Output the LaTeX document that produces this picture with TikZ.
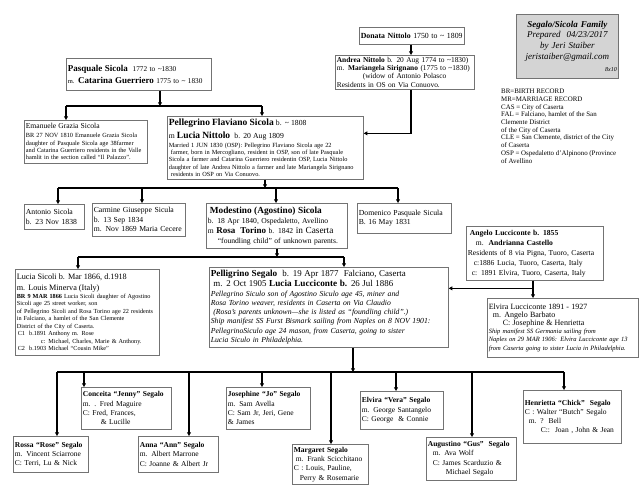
\documentclass[tikz,border=0pt]{standalone}
\usepackage{fontspec}
\setmainfont{Liberation Serif}
\usetikzlibrary{arrows.meta}
\setlength{\lineskiplimit}{-20pt}

\newcommand{\nm}[2][9]{{\fontsize{#1}{0}\selectfont\textbf{#2}}}
\newcommand{\sz}[2]{{\fontsize{#1}{0}\selectfont #2}}
\newcommand{\tld}{\textasciitilde}

\tikzset{
  person/.style={draw=black!55, line width=0.7pt, anchor=north west, align=left,
    inner xsep=1.5pt, inner ysep=1pt, font=\fontsize{7.5}{9.3}\selectfont},
  link/.style={line width=1.1pt, -{Triangle[length=3.6pt,width=3.8pt]}},
  bar/.style={line width=1.1pt},
}

\begin{document}
\begin{tikzpicture}[x=1pt, y=-1pt]
\useasboundingbox (0,0) rectangle (640,495);

% oldest generation
\node[person, text width=142pt, minimum height=32pt, font=\fontsize{7.3}{11.5}\selectfont] (pasq) at (66,58)
  {\nm{Pasquale Sicola}\ \ 1772 to \tld1830\\ \sz{6.5}{m.} \nm{Catarina Guerriero} 1775 to \tld{} 1830};
\node[person, text width=102pt, minimum height=17pt, font=\fontsize{7.8}{9}\selectfont] (donata) at (359,27)
  {\textbf{Donata Nittolo} 1750 to \tld{} 1809};
\node[person, text width=136pt, minimum height=34pt, font=\fontsize{7.4}{8.2}\selectfont] (andrea) at (335,55)
  {\textbf{Andrea Nittolo} b. 20 Aug 1774 to \tld1830)\\
   m. \textbf{Mariangela Sirignano} (1775 to \tld1830)\\
   \hspace*{26pt}(widow of Antonio Polasco\\
   Residents in OS on Via Conuovo.};

% title and legend
\node[person, fill=black!17, align=center, text width=99pt, minimum height=64pt,
  font=\fontsize{9}{10.6}\selectfont\itshape] (title) at (516,14)
  {\textbf{Segalo/Sicola Family}\\ Prepared\ \ 04/23/2017\\ by Jeri Staiber\\
   jeristaiber@gmail.com\\[2pt] \hspace*{\fill}\sz{6}{8x10}\hspace*{4pt}};
\node[anchor=north west, align=left, inner sep=0pt, font=\fontsize{6.9}{7.7}\selectfont] (abbrev) at (501,89)
  {BR=BIRTH RECORD\\ MR=MARRIAGE RECORD\\ CAS = City of Caserta\\
   FAL = Falciano, hamlet of the San\\ Clemente District\\ of the City of Caserta\\
   CLE = San Clemente, district of the City\\ of Caserta\\
   OSP = Ospedaletto d'Alpinono (Province\\ of Avellino};

% Pasquale's children
\node[person, text width=120pt, minimum height=43pt, font=\fontsize{6.3}{7.4}\selectfont] (eman) at (24,120)
  {\sz{7.6}{Emanuele Grazia Sicola}\\[1.5pt]
   BR 27 NOV 1810 Emanuele Grazia Sicola\\
   daughter of Pasquale Sicola age 38farmer\\
   and Catarina Guerriero residents in the Valle\\
   hamlit in the section called ``Il Palazzo''.};
\node[person, text width=193pt, minimum height=63pt, font=\fontsize{6.3}{7.4}\selectfont] (pelF) at (167,116)
  {\nm[9.5]{Pellegrino Flaviano Sicola} \sz{7.7}{b. \tld{} 1808}\\[3.6pt]
   \sz{7.7}{m} \nm[9.5]{Lucia Nittolo}\ \ \sz{7.7}{b. 20 Aug 1809}\\[0.8pt]
   Married 1 JUN 1830 (OSP): Pellegrino Flaviano Sicola age 22\\
   \ farmer, born in Mercogliano, resident in OSP, son of late Pasquale\\
   Sicola a farmer and Catarina Guerriero residentin OSP, Lucia Nittolo\\
   daughter of late Andrea Nittolo a farmer and late Mariangela Sirignano\\
   \ residents in OSP on Via Conuovo.};

% Pellegrino Flaviano's children
\node[person, text width=57pt, minimum height=25pt, font=\fontsize{7.7}{9.5}\selectfont] (anto) at (24,204)
  {Antonio Sicola\\ b. 23 Nov 1838};
\node[person, text width=90pt, minimum height=33pt, font=\fontsize{7.7}{9.5}\selectfont] (carm) at (92,203)
  {Carmine Giuseppe Sicula\\ b. 13 Sep 1834\\ m. Nov 1869 Maria Cecere};
\node[person, text width=138pt, minimum height=45pt, font=\fontsize{7.6}{10}\selectfont] (modest) at (206,203)
  {\hspace*{2pt}\nm[9.3]{Modestino (Agostino) Sicola}\\
   b. 18 Apr 1840, Ospedaletto, Avellino\\
   m \nm{Rosa\ \ Torino} b. 1842 \sz{9.3}{in Caserta}\\
   \hspace*{10pt}``foundling child'' of unknown parents.};
\node[person, text width=91pt, minimum height=30pt, font=\fontsize{7.7}{9.5}\selectfont] (domen) at (357,203)
  {Domenico Pasquale Sicula\\ B. 16 May 1831};

% Lucciconte side
\node[person, text width=134pt, minimum height=54pt, font=\fontsize{7.6}{10}\selectfont] (angelo) at (466,226)
  {\hspace*{2pt}\textbf{Angelo Lucciconte b. 1855}\\
   \hspace*{8pt}m.\ \ \textbf{Andrianna Castello}\\
   Residents of 8 via Pigna, Tuoro, Caserta\\
   \hspace*{6pt}c:1886 Lucia, Tuoro, Caserta, Italy\\
   \hspace*{4pt}c: 1891 Elvira, Tuoro, Caserta, Italy};
\node[person, text width=148pt, minimum height=59pt, font=\fontsize{6.5}{8}\selectfont] (elvL) at (487,298)
  {\sz{8}{Elvira Lucciconte 1891 - 1927}\\
   \sz{8}{\hspace*{4pt}m. Angelo Barbato}\\
   \sz{8}{\hspace*{14pt}C: Josephine \& Henrietta}\\
   \itshape Ship manifest SS Germania sailing from\\
   Naples on 29 MAR 1906: Elvira Lucciconte age 13\\[0.8pt]
   from Caserta going to sister Lucia in Philadelphia.};

% Modestino's children
\node[person, text width=141pt, minimum height=86pt, font=\fontsize{6.2}{7.5}\selectfont] (lucia) at (15,269)
  {\sz{8.2}{Lucia Sicoli b. Mar 1866, d.1918}\\[3pt]
   \sz{8.2}{m. Louis Minerva (Italy)}\\[0.8pt]
   \textbf{BR 9 MAR 1866} Lucia Sicoli daughter of Agostino\\
   Sicoli age 25 street worker, son\\
   of Pellegrino Sicoli and Rosa Torino age 22 residents\\
   in Falciano, a hamlet of the San Clemente\\
   District of the City of Caserta.\\
   \hspace*{1pt}C1\ \ b.1891 Anthony m. Rose\\
   \hspace*{24pt}c: Michael, Charles, Marie \& Anthony.\\
   \hspace*{1pt}C2\ \ b.1903 Michael ``Cousin Mike''};
\node[person, text width=236pt, minimum height=80pt, font=\fontsize{7.7}{9.3}\selectfont] (pelS) at (209,267)
  {\nm[9.2]{Pelligrino Segalo}\ \ \sz{8.9}{b. 19 Apr 1877\ \ Falciano, Caserta}\\[0.6pt]
   \ \sz{8.9}{m. 2 Oct 1905} \nm[9.2]{Lucia Lucciconte b.} \sz{8.9}{26 Jul 1886}\\
   \itshape Pellegrino Siculo son of Agostino Siculo age 45, miner and\\
   Rosa Torino weaver, residents in Caserta on Via Claudio\\
   \ (Rosa's parents unknown---she is listed as ``foundling child''.)\\
   Ship manifest SS Furst Bismark sailing from Naples on 8 NOV 1901:\\
   PellegrinoSiculo age 24 mason, from Caserta, going to sister\\
   Lucia Siculo in Philadelphia.};

% Pelligrino's children
\node[person, text width=87pt, minimum height=42pt] (conc) at (81,387)
  {\textbf{Conceita ``Jenny'' Segalo}\\ m. . Fred Maguire\\ C: Fred, Frances,\\ \hspace*{18pt}\& Lucille};
\node[person, text width=72pt, minimum height=36pt] (rossa) at (13,436)
  {\textbf{Rossa ``Rose'' Segalo}\\ m. Vincent Sciarrone\\ C: Terri, Lu \& Nick};
\node[person, text width=77pt, minimum height=36pt] (anna) at (138,436)
  {\textbf{Anna ``Ann'' Segalo}\\ m. Albert Marrone\\ C: Joanne \& Albert Jr};
\node[person, text width=81pt, minimum height=42pt] (jose) at (226,387)
  {\textbf{Josephine ``Jo'' Segalo}\\ m. Sam Avella\\ C: Sam Jr, Jeri, Gene\\ \& James};
\node[person, text width=73pt, minimum height=40pt] (marg) at (292,444)
  {\textbf{Margaret Segalo}\\ \hspace*{2pt}m. Frank Scicchitano\\ C : Louis, Pauline,\\ \hspace*{6pt}Perry \& Rosemarie};
\node[person, text width=80pt, minimum height=38pt] (vera) at (360,391)
  {\textbf{Elvira ``Vera'' Segalo}\\ m. George Santangelo\\ C: George\ \ \& Connie};
\node[person, text width=87pt, minimum height=43pt] (gus) at (426,437)
  {\textbf{Augustino ``Gus''\ \ Segalo}\\ \hspace*{5pt}m. Ava Wolf\\ \hspace*{5pt}C: James Scarduzio \&\\ \hspace*{18pt}Michael Segalo};
\node[person, text width=95pt, minimum height=53pt, font=\fontsize{7.5}{8.8}\selectfont] (henr) at (523,390)
  {\textbf{Henrietta ``Chick''\ \ Segalo}\\ C : Walter ``Butch'' Segalo\\ \hspace*{4pt}m. ?\ \ Bell\\ \hspace*{16pt}C::\ \ Joan , John \& Jean};

% family bars
\coordinate (barA) at (0,106);
\coordinate (barB) at (0,188);
\coordinate (barC) at (0,257);
\coordinate (barD) at (0,372);

% Pasquale -> children
\draw[link] ([xshift=94]pasq.south west) -- ([xshift=94]pasq.south west |- barA);
\draw[bar] ([xshift=42]eman.north west |- barA) -- ([xshift=95]pelF.north west |- barA);
\foreach \kid/\dx in {eman/42, pelF/95}
  \draw[link] ([xshift=\dx]\kid.north west |- barA) -- ([xshift=\dx]\kid.north west);

% Nittolo line
\draw[link] ([xshift=52]donata.south west) -- ([xshift=52]donata.south west |- andrea.north);
\draw[link] ([xshift=76]andrea.south west) |- ([yshift=14.5]pelF.east);

% Pellegrino Flaviano -> children
\draw[link] ([xshift=98]pelF.south west) -- ([xshift=98]pelF.south west |- barB);
\draw[bar] ([xshift=34]anto.north west |- barB) -- ([xshift=41]domen.north west |- barB);
\foreach \kid/\dx in {anto/34, carm/50, modest/70, domen/41}
  \draw[link] ([xshift=\dx]\kid.north west |- barB) -- ([xshift=\dx]\kid.north west);

% Modestino -> children
\draw[link] ([xshift=71]modest.south west) -- ([xshift=71]modest.south west |- barC);
\draw[bar] ([xshift=63]lucia.north west |- barC) -- ([xshift=135]pelS.north west |- barC);
\foreach \kid/\dx in {lucia/63, pelS/135}
  \draw[link] ([xshift=\dx]\kid.north west |- barC) -- ([xshift=\dx]\kid.north west);

% Angelo -> daughters
\draw[link] ([xshift=67]angelo.south west) -- ([xshift=67]angelo.south west |- elvL.north);
\draw[link] ([xshift=67]angelo.south west) |- ([yshift=19]pelS.east);

% Pelligrino -> children
\draw[link] ([xshift=144]pelS.south west) -- ([xshift=144]pelS.south west |- barD);
\draw[bar] ([xshift=44]rossa.north west |- barD) -- ([xshift=41]henr.north west |- barD);
\foreach \kid/\dx in {rossa/44, conc/3, anna/51, jose/36, marg/39, vera/36, gus/46, henr/41}
  \draw[link] ([xshift=\dx]\kid.north west |- barD) -- ([xshift=\dx]\kid.north west);
\end{tikzpicture}
\end{document}
